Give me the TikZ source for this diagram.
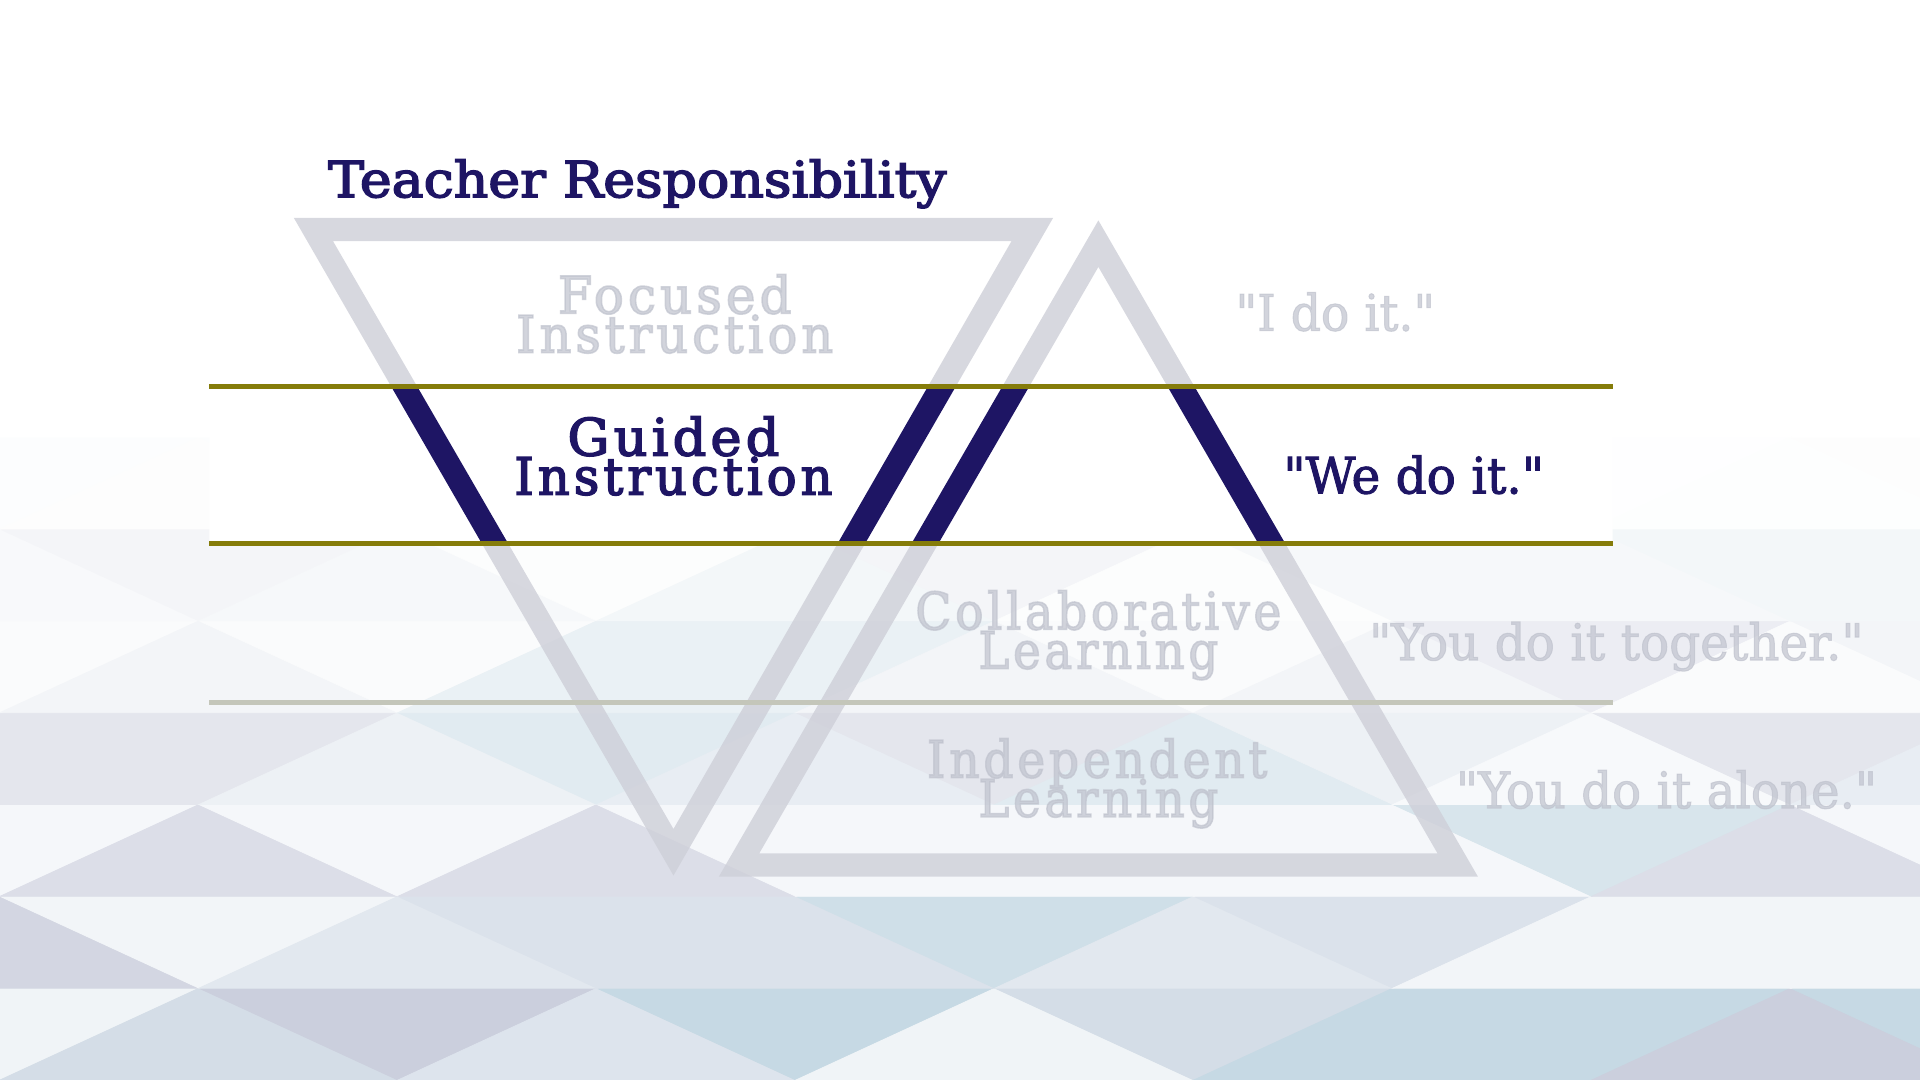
\documentclass[tikz,border=0pt]{standalone}
\usepackage{fontspec}
\usepackage{graphicx}
\setmainfont{DejaVu Serif}[Ligatures=TeXOff]
\newfontfamily\boldfont{DejaVu Serif}[Ligatures=TeXOff,FakeBold=3]
\newfontfamily\lblbold{DejaVu Serif}[LetterSpace=8,Ligatures=TeXOff,FakeBold=3]
\newfontfamily\qfont{DejaVu Serif}[Ligatures=TeXOff,FakeBold=2]
\newcommand\fitw[3]{\resizebox{#1pt}{\height}{\fontsize{#2}{#2}\selectfont #3}}
\definecolor{navy}{RGB}{30,21,100}
\definecolor{olivebar}{RGB}{133,124,10}
\definecolor{trigray}{RGB}{206,207,216}
\definecolor{lgtext}{RGB}{192,195,206}
\definecolor{linethree}{RGB}{196,198,186}
\definecolor{bga}{RGB}{196,200,216}
\definecolor{bgb}{RGB}{190,212,224}
\definecolor{bgc}{RGB}{216,224,234}
\definecolor{bgd}{RGB}{238,242,246}
\definecolor{bge}{RGB}{206,216,228}
\tikzset{
  txt/.style={inner sep=0pt, outer sep=0pt},
  darktxt/.style={txt, text=navy},
  lighttxt/.style={txt, text=lgtext, text opacity=0.7},
  bar/.style={line width=4pt},
}
\begin{document}
\begin{tikzpicture}[x=1pt,y=-1pt]
\useasboundingbox (0,0) rectangle (1568,882);
\fill[white] (0,0) rectangle (1568,882);
% background tessellation
\begin{scope}
\clip (0,0) rectangle (1568,882);
\pgfmathsetseed{11}
\foreach \r in {0,...,8} {
  \pgfmathsetmacro\yb{882-\r*75}
  \pgfmathsetmacro\yt{882-(\r+1)*75}
  \pgfmathsetmacro\off{mod(\r,2)*162.5-325}
  \pgfmathtruncatemacro\p{max(0,88-\r*14)}
  \foreach \c in {0,...,6} {
    \pgfmathsetmacro\xa{\off+\c*325}
    \pgfmathrandominteger{\k}{1}{5}
    \ifcase\k\or\def\cc{bga}\or\def\cc{bgb}\or\def\cc{bgc}\or\def\cc{bgd}\or\def\cc{bge}\fi
    \path[fill=\cc!\p!white, draw=\cc!\p!white, line width=0.6pt]
      (\xa,\yb) -- (\xa+325,\yb) -- (\xa+162.5,\yt) -- cycle;
    \pgfmathrandominteger{\k}{1}{5}
    \ifcase\k\or\def\cc{bga}\or\def\cc{bgb}\or\def\cc{bgc}\or\def\cc{bgd}\or\def\cc{bge}\fi
    \path[fill=\cc!\p!white, draw=\cc!\p!white, line width=0.6pt]
      (\xa+162.5,\yt) -- (\xa+487.5,\yt) -- (\xa+325,\yb) -- cycle;
  }
}
\end{scope}
% gray triangles
\fill[trigray, opacity=0.8, even odd rule]
  (240,178) -- (860,178) -- (550,715) -- cycle
  (272,197) -- (826,197) -- (550,677) -- cycle;
\fill[trigray, opacity=0.8, even odd rule]
  (897,180) -- (1207,716) -- (587,716) -- cycle
  (897,218) -- (1174,697) -- (620,697) -- cycle;
% guided band
\begin{scope}
\clip (171,316) rectangle (1317,444);
\fill[white] (171,316) rectangle (1317,444);
\fill[navy, even odd rule]
  (240,178) -- (860,178) -- (550,715) -- cycle
  (272,197) -- (826,197) -- (550,677) -- cycle;
\fill[navy, even odd rule]
  (897,180) -- (1207,716) -- (587,716) -- cycle
  (897,218) -- (1174,697) -- (620,697) -- cycle;
\end{scope}
% horizontal bars
\coordinate (l1a) at (171,316); \coordinate (l1b) at (1317,316);
\coordinate (l2a) at (171,444); \coordinate (l2b) at (1317,444);
\coordinate (l3a) at (171,574); \coordinate (l3b) at (1317,574);
\draw[bar, olivebar] (l1a) -- (l1b);
\draw[bar, olivebar] (l2a) -- (l2b);
\draw[bar, linethree] (l3a) -- (l3b);
% texts
\node[darktxt, anchor=base west] (title) at (268,161) {\fitw{505}{40.6}{\boldfont Teacher Responsibility}};
\node[lighttxt, anchor=base] (foc1) at (551,256) {\fitw{191}{42}{\lblbold Focused}};
\node[lighttxt, anchor=base] (foc2) at (551,288) {\fitw{259}{42}{\lblbold Instruction}};
\node[darktxt, anchor=base] (gui1) at (550,372) {\fitw{173}{42}{\lblbold Guided}};
\node[darktxt, anchor=base] (gui2) at (550,404) {\fitw{260}{42}{\lblbold Instruction}};
\node[lighttxt, anchor=base] (col1) at (897,514) {\fitw{299}{42}{\lblbold Collaborative}};
\node[lighttxt, anchor=base] (col2) at (897,546) {\fitw{196}{42}{\lblbold Learning}};
\node[lighttxt, anchor=base] (ind1) at (896,635) {\fitw{278}{42}{\lblbold Independent}};
\node[lighttxt, anchor=base] (ind2) at (897,667) {\fitw{196}{42}{\lblbold Learning}};
\node[lighttxt, anchor=base west] (q1) at (1009,270) {\fitw{163}{41}{\qfont "I do it."}};
\node[darktxt, anchor=base west] (q2) at (1048,403) {\fitw{213}{41}{\qfont "We do it."}};
\node[lighttxt, anchor=base west] (q3) at (1118,539) {\fitw{404}{41}{\qfont "You do it together."}};
\node[lighttxt, anchor=base west] (q4) at (1189,660) {\fitw{344}{41}{\qfont "You do it alone."}};
\end{tikzpicture}
\end{document}
